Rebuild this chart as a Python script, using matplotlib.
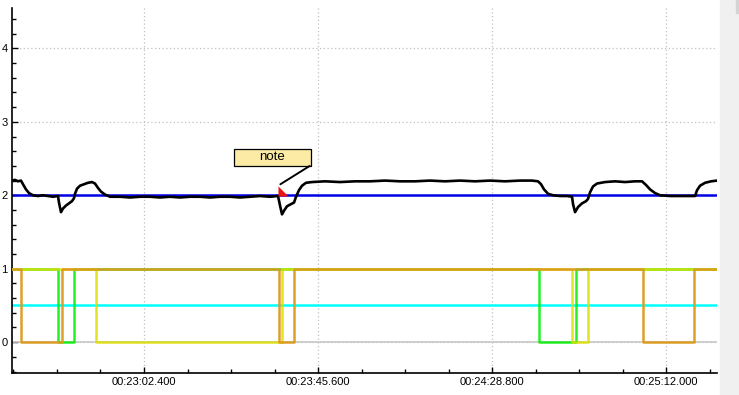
import matplotlib.pyplot as plt
from matplotlib.ticker import MultipleLocator, FuncFormatter
from matplotlib.patches import Rectangle

# time in seconds since midnight
sig_t = [1349.63, 1350.37, 1351.12, 1351.86, 1352.36, 1353.10, 1353.85, 1354.84,
         1356.08, 1357.32, 1358.56, 1359.81, 1361.05, 1361.30, 1361.79, 1362.29,
         1363.03, 1363.78, 1364.52, 1365.02, 1365.27, 1365.77, 1366.51, 1367.50,
         1368.50, 1369.49, 1370.23, 1370.98, 1371.72, 1372.71, 1373.96, 1376.44,
         1378.92, 1381.41, 1383.89, 1386.37, 1388.86, 1391.34, 1393.82, 1396.30,
         1398.79, 1401.27, 1403.75, 1406.23, 1408.72, 1411.20, 1413.68, 1415.67,
         1416.17, 1416.66, 1417.16, 1417.90, 1418.90, 1419.64, 1420.14, 1420.88,
         1421.63, 1422.62, 1424.11, 1427.34, 1431.07, 1434.79, 1438.51, 1442.24,
         1445.96, 1449.68, 1453.41, 1457.13, 1460.86, 1464.58, 1468.31, 1472.03,
         1475.76, 1478.73, 1480.22, 1480.97, 1481.71, 1482.71, 1483.95, 1485.69,
         1487.43, 1488.66, 1488.91, 1489.41, 1490.16, 1491.15, 1492.14, 1492.63,
         1493.13, 1493.87, 1494.87, 1496.85, 1499.34, 1501.82, 1504.30, 1506.04,
         1507.03, 1508.03, 1509.27, 1510.51, 1512.99, 1515.48, 1517.96, 1519.20,
         1519.70, 1520.44, 1521.69, 1523.18, 1524.65]
sig_v = [2.20, 2.21, 2.19, 2.20, 2.15, 2.08, 2.03, 2.00,
         1.99, 2.00, 1.99, 1.98, 1.99, 1.90, 1.77, 1.82,
         1.86, 1.89, 1.92, 1.96, 2.02, 2.09, 2.13, 2.15,
         2.17, 2.18, 2.16, 2.10, 2.05, 2.01, 1.98, 1.98,
         1.97, 1.98, 1.98, 1.97, 1.98, 1.97, 1.98, 1.98,
         1.97, 1.98, 1.98, 1.97, 1.98, 1.99, 1.98, 1.99,
         1.86, 1.74, 1.79, 1.85, 1.88, 1.90, 1.98, 2.07,
         2.13, 2.17, 2.18, 2.19, 2.18, 2.19, 2.19, 2.20,
         2.19, 2.19, 2.20, 2.19, 2.20, 2.19, 2.20, 2.19,
         2.20, 2.20, 2.19, 2.15, 2.08, 2.02, 2.00, 1.99,
         1.99, 1.98, 1.88, 1.77, 1.84, 1.89, 1.92, 1.95,
         2.04, 2.12, 2.16, 2.18, 2.19, 2.18, 2.19, 2.19,
         2.14, 2.08, 2.03, 2.00, 1.99, 1.99, 1.99, 1.99,
         2.07, 2.13, 2.17, 2.19, 2.20]

t_start, t_end = 1349.63, 1524.65
setpoint = 2.0
threshold = 0.5

green_t = [1349.63, 1361.05, 1365.02, 1480.47, 1489.65, 1524.65]
green_v = [1, 0, 1, 0, 1, 1]
yellow_t = [1349.63, 1370.48, 1416.66, 1488.66, 1492.63, 1524.65]
yellow_v = [1, 0, 1, 0, 1, 1]
orange_t = [1349.63, 1351.86, 1362.04, 1415.92, 1419.64, 1506.29, 1518.95, 1524.65]
orange_v = [1, 0, 1, 0, 1, 0, 1, 1]

note_label = 'note'
note_xy = (1415.67, 2.13)


def fmt_time(x, pos):
    ms = int(round(x * 1000))
    h = ms // 3600000
    m = (ms // 60000) % 60
    s = (ms // 1000) % 60
    return "%02d:%02d:%02d.%03d" % (h, m, s, ms % 1000)


plt.rcParams['font.family'] = ['Liberation Sans', 'DejaVu Sans']

fig = plt.figure(figsize=(7.39, 3.95), dpi=100)
# grey strip on the right, like the window scrollbar
fig.patches.append(Rectangle((720 / 739, 0), 19 / 739, 1, transform=fig.transFigure,
                             color='#f0f0f0', zorder=-1))
fig.patches.append(Rectangle((736 / 739, 1 - 13 / 395), 3 / 739, 13 / 395,
                             transform=fig.transFigure, color='#d4d4d4', zorder=0))
ax = fig.add_axes([12 / 739, 22 / 395, 705 / 739, 365 / 395])

ax.plot([t_start, t_end], [0, 0], color='#c8c8c8', lw=1.2, zorder=1)
ax.plot([t_start, t_end], [threshold, threshold], color='#00ffff', lw=1.8, zorder=2)
ax.plot([t_start, t_end], [setpoint, setpoint], color='#0000e6', lw=1.8, zorder=2)
ax.step(green_t, green_v, where='post', color='#00ee00', lw=1.8, alpha=0.85, zorder=3)
ax.step(yellow_t, yellow_v, where='post', color='#dede00', lw=1.8, alpha=0.85, zorder=4)
ax.step(orange_t, orange_v, where='post', color='#dc9a1c', lw=1.8, alpha=0.95, zorder=5)
ax.plot(sig_t, sig_v, color='black', lw=1.9, zorder=6)

# note box (axes fraction) and its pointer
bx0, bx1 = 222 / 705, 299 / 705
by0, by1 = 207 / 365, 224 / 365
ax.add_patch(Rectangle((bx0, by0), bx1 - bx0, by1 - by0, transform=ax.transAxes,
                       fc='#fceba5', ec='black', lw=0.9, zorder=8))
ax.text((bx0 + bx1) / 2, (by0 + by1) / 2, note_label, transform=ax.transAxes,
        ha='center', va='center', fontsize=9.5, zorder=9)
ax.annotate('', xy=note_xy, xytext=(bx1 - 0.002, by0), textcoords='axes fraction',
            arrowprops=dict(arrowstyle='-', color='black', lw=1.4,
                            shrinkA=0, shrinkB=2), zorder=8)
ax.plot(*note_xy, marker=[(0, 0), (0, -1), (1, -1)], ms=14, color='#ee1111',
        mec='none', zorder=7)

ax.set_xlim(t_start, t_end)
ax.set_ylim(-0.42, 4.55)
ax.xaxis.set_major_locator(MultipleLocator(43.2))
ax.xaxis.set_minor_locator(MultipleLocator(10.8))
ax.xaxis.set_major_formatter(FuncFormatter(fmt_time))
ax.yaxis.set_major_locator(MultipleLocator(1))
ax.yaxis.set_minor_locator(MultipleLocator(0.2))

ax.grid(True, which='major', color='#c0c0c0', linestyle=(0, (1, 2)), lw=0.9)
ax.set_axisbelow(True)
for side in ['top', 'right']:
    ax.spines[side].set_visible(False)
ax.spines['left'].set_linewidth(1.2)
ax.spines['bottom'].set_linewidth(1.2)
ax.tick_params(which='major', direction='in', length=4, width=1, labelsize=8, pad=3)
ax.tick_params(which='minor', direction='in', length=3, width=1)

fig.savefig('out.png', dpi=100)
